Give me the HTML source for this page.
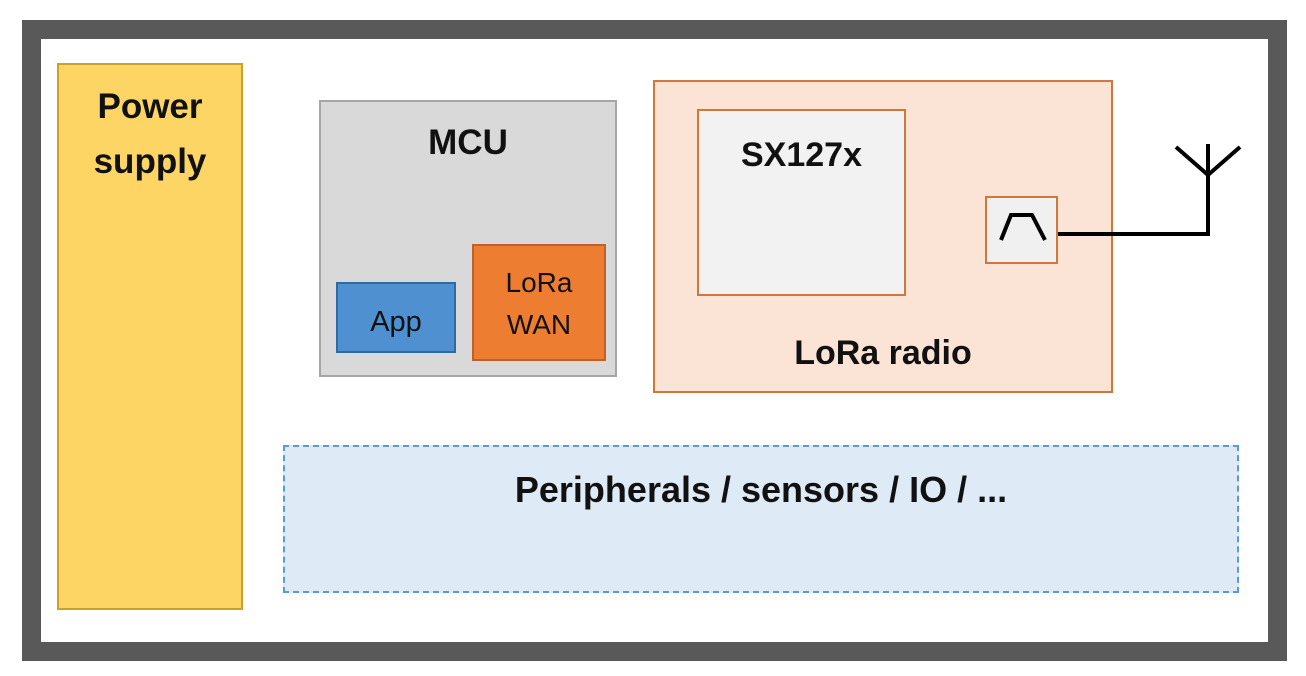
<!DOCTYPE html>
<html><head><style>
body{margin:0;width:1306px;height:676px;background:#fff;position:relative;overflow:hidden;font-family:"Liberation Sans",sans-serif;}
.b{position:absolute;box-sizing:border-box;}
.t{position:absolute;height:40px;line-height:40px;text-align:center;color:#111;white-space:nowrap;}
.k{font-weight:bold;}
</style></head><body>
<div class="b" style="left:22px;top:20px;width:1265px;height:641px;border:19px solid #595959;"></div>
<div class="b" style="left:57px;top:63px;width:186px;height:547px;background:#fdd565;border:2px solid #c9a227;"></div>
<div class="b" style="left:319px;top:100px;width:298px;height:277px;background:#d9d9d9;border:2px solid #a6a6a6;"></div>
<div class="b" style="left:336px;top:282px;width:120px;height:71px;background:#4f90d0;border:2px solid #2e6aa5;"></div>
<div class="b" style="left:472px;top:244px;width:134px;height:117px;background:#ed7d31;border:2px solid #c0602a;"></div>
<div class="b" style="left:653px;top:80px;width:460px;height:313px;background:#fbe4d5;border:2px solid #d2773a;"></div>
<div class="b" style="left:697px;top:109px;width:209px;height:187px;background:#f2f2f2;border:2px solid #d2773a;"></div>
<div class="b" style="left:985px;top:196px;width:73px;height:68px;background:#f0f0f0;border:2px solid #d2773a;"></div>
<div class="b" style="left:283px;top:445px;width:956px;height:148px;background:#deebf7;border:2px dashed #5b9bd5;"></div>
<svg style="position:absolute;left:0;top:0" width="1306" height="676">
<polyline points="1001,240 1011,215 1032,215 1045,240" fill="none" stroke="#000" stroke-width="4"/>
<polyline points="1058,234 1208,234 1208,144" fill="none" stroke="#000" stroke-width="4"/>
<polyline points="1176,147 1208,175 1240,147" fill="none" stroke="#000" stroke-width="4"/>
</svg>
<div class="t k" style="left:57px;width:186px;top:87px;font-size:35px;">Power</div>
<div class="t k" style="left:57px;width:186px;top:142px;font-size:35px;">supply</div>
<div class="t k" style="left:319px;width:298px;top:123px;font-size:35px;">MCU</div>
<div class="t k" style="left:697px;width:209px;top:135px;font-size:34px;">SX127x</div>
<div class="t k" style="left:653px;width:460px;top:333px;font-size:34px;">LoRa radio</div>
<div class="t k" style="left:283px;width:956px;top:470px;font-size:36px;">Peripherals / sensors / IO / ...</div>
<div class="t" style="left:336px;width:120px;top:302px;font-size:29px;">App</div>
<div class="t" style="left:472px;width:134px;top:263px;font-size:28px;">LoRa</div>
<div class="t" style="left:472px;width:134px;top:305px;font-size:28px;">WAN</div>
</body></html>
